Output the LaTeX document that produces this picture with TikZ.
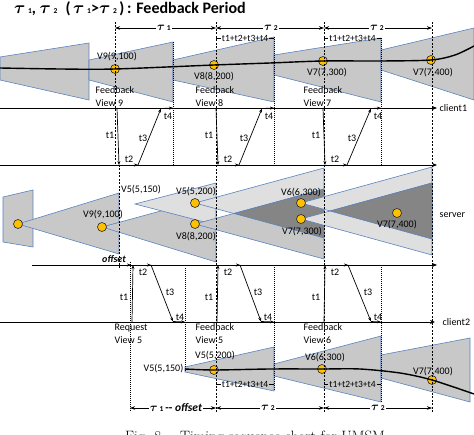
\documentclass[tikz,border=0pt]{standalone}
\usepackage{fontspec}
\usepackage{amsmath}
\newfontfamily\calib{Carlito}
\usetikzlibrary{arrows.meta}
\definecolor{cgray}{HTML}{C8C8C8}
\definecolor{clight}{HTML}{DFDFDF}
\definecolor{cdark}{HTML}{858585}
\definecolor{cblue}{HTML}{5B83C0}
\definecolor{cgold}{HTML}{FFC000}
\newcommand{\tauc}[1]{$\boldsymbol{\tau}$\,{\fontsize{7.5}{7.5}\selectfont\bfseries #1}}
\begin{document}
\begin{tikzpicture}[x=1pt,y=-1pt,
  lbl/.style={font=\calib\fontsize{10}{13}\selectfont, inner sep=0.5pt},
  shp/.style={draw=cblue, line width=0.6pt, fill=cgray},
  lshp/.style={shp, fill=clight},
  dshp/.style={shp, fill=cdark},
  vpt/.style={circle, draw=black!85, fill=cgold, minimum size=9pt, inner sep=0pt, line width=0.6pt},
  vdash/.style={dash pattern=on 2pt off 1.5pt, line width=0.6pt},
  vdot/.style={dash pattern=on 1pt off 1pt, line width=0.6pt},
  axln/.style={line width=0.8pt, -{Stealth[length=5pt,width=4pt]}},
  tarr/.style={line width=0.7pt, -{Stealth[length=4pt,width=3pt]}},
  strm/.style={line width=1.4pt},
  dimline/.style={line width=0.6pt, {Stealth[length=5pt,width=3.5pt]}-{Stealth[length=5pt,width=3.5pt]}},
  dimlbl/.style={font=\calib\fontsize{11.5}{11.5}\selectfont\bfseries, fill=white, inner sep=1pt},
  sumlbl/.style={font=\calib\fontsize{9.5}{10}\selectfont, inner sep=1pt}
]
\useasboundingbox (0,0) rectangle (474,435);
\clip (0,0) rectangle (474,435);

% title
\node[anchor=west, font=\calib\fontsize{16}{16}\selectfont\bfseries, inner sep=0pt] (title) at (14,9)
  {\tauc{1}, \tauc{2} \;(\,\tauc{1}>\tauc{2}\,)\,: Feedback Period};

% ---------- client1 stream shapes ----------
\path[shp] (0,57) -- (89,43) -- (89,100) -- (0,80) -- cycle;
\path[shp] (89,60) -- (173,42) -- (173,102) -- (89,80) -- cycle;
\path[shp] (173,60) -- (274,37) -- (274,102) -- (173,80) -- cycle;
\path[shp] (274,55) -- (381,38) -- (381,102) -- (274,75) -- cycle;
\path[shp] (381,50) -- (474,28) -- (474,100) -- (381,70) -- cycle;

% ---------- server shapes ----------
\path[shp] (3,197) -- (33,190) -- (33,247) -- (3,242) -- cycle;
\path[shp] (18,224) -- (119,193) -- (119,254) -- cycle;
\path[shp] (102,227) -- (216,196) -- (216,262) -- cycle;
\path[lshp] (135,204) -- (216,183) -- (216,225) -- cycle;
\path[lshp] (195,203) -- (324,168) -- (324,238) -- cycle;
\path[shp] (195,224) -- (324,189) -- (324,259) -- cycle;
\path[dshp] (234,213.5) -- (324,189) -- (324,238) -- cycle;
\path[lshp] (301,203) -- (432,167) -- (432,239) -- cycle;
\path[lshp] (301,219) -- (432,183) -- (432,255) -- cycle;
\path[dshp] (330,211) -- (432,183) -- (432,239) -- cycle;

% ---------- client2 stream shapes ----------
\path[shp] (185,367) -- (274,347) -- (274,391) -- (185,372) -- cycle;
\path[shp] (274,364) -- (381,336) -- (381,402) -- (274,376) -- cycle;
\path[shp] (381,355) -- (470,338) -- (470,402) -- (381,378) -- cycle;

% circles on streams
\node[vpt] (a9) at (115,69) {};
\node[vpt] (a8) at (214,65) {};
\node[vpt] (a7) at (323,61) {};
\node[vpt] (a74) at (431,60) {};
\node[vpt] (b5) at (214,370) {};
\node[vpt] (b6) at (322,369) {};
\node[vpt] (b7) at (432,380) {};

% stream curves
\draw[strm] plot[smooth] coordinates {(0,68) (60,69) (115,69) (214,65) (270,63) (323,61) (381,61) (431,60) (455,55) (474,46)};
\draw[strm] plot[smooth] coordinates {(185,369) (214,370) (270,369) (322,369) (360,369) (400,373) (432,380) (474,394)};

% vertical guide lines
\draw[vdash] (115,22) -- (115,165);
\draw[vdash] (119,165) -- (119,268);
\draw[vdash] (216,22) -- (216,412);
\draw[vdash] (324,22) -- (324,412);
\draw[vdash] (432,22) -- (432,412);
\draw[vdot] (173,42) -- (173,165);
\draw[vdot] (274,37) -- (274,165);
\draw[vdot] (381,38) -- (381,165);
\draw[vdot] (130,262) -- (130,412);
\draw[vdot] (185,268) -- (185,372);
\draw[vdot] (274,265) -- (274,391);
\draw[vdot] (381,265) -- (381,402);

% server circles
\node[vpt] (s0) at (18,224) {};
\node[vpt] (s9) at (102,227) {};
\node[vpt] (s5) at (195,203) {};
\node[vpt] (s8) at (195,224) {};
\node[vpt] (s6) at (301,203) {};
\node[vpt] (s7) at (301,219) {};
\node[vpt] (s74) at (397,213) {};

% axes
\coordinate (c1a) at (0,108); \coordinate (c1b) at (437,108);
\coordinate (sta) at (0,165); \coordinate (stb) at (437,165);
\coordinate (sba) at (32,265); \coordinate (sbb) at (437,265);
\coordinate (c2a) at (0,322); \coordinate (c2b) at (435,322);
\draw[axln] (c1a) -- (c1b);
\draw[axln] (sta) -- (stb);
\draw[axln] (sba) -- (sbb);
\draw[axln] (c2a) -- (c2b);
\node[lbl, anchor=west] (lc1) at (439,108) {client1};
\node[lbl, anchor=west] (lsv) at (439,215) {server};
\node[lbl, anchor=west] (lc2) at (442,322) {client2};

% offset
\coordinate (ofa) at (119,265); \coordinate (ofb) at (131,265);
\draw[tarr] (ofa) -- (ofb);
\node[font=\calib\fontsize{10}{10}\selectfont\bfseries\itshape, inner sep=0pt] (lof) at (114,259) {offset};

% t-arrows client1 <-> server
\foreach \a/\c/\d/\e [count=\i] in {117/138/161/173, 216/239/262/274, 323/347/371/381}{
  \coordinate (u1\i) at (\a,108);
  \coordinate (u2\i) at (\a+2,165);
  \coordinate (u3\i) at (\c,165);
  \coordinate (u4\i) at (\d,108.5);
  \coordinate (u5\i) at (\e,108);
  \draw[tarr] (u1\i) -- (u2\i);
  \draw[tarr] (u2\i) -- (u3\i);
  \draw[tarr] (u3\i) -- (u4\i);
  \draw[tarr] (u4\i) -- (u5\i);
  \node[lbl] (ut1\i) at (\a-7,135) {t1};
  \node[lbl] (ut2\i) at (\a+12,159) {t2};
  \node[lbl] (ut3\i) at (\c+5,138) {t3};
  \node[lbl] (ut4\i) at (\d+7,116) {t4};
}
% t-arrows client2 <-> server
\foreach \a/\c/\d/\e [count=\i] in {132/151/173/185, 217/240/261/274, 324/348/371/381}{
  \coordinate (w1\i) at (\a,322);
  \coordinate (w2\i) at (\a+1,265);
  \coordinate (w3\i) at (\c,265);
  \coordinate (w4\i) at (\d,321.5);
  \coordinate (w5\i) at (\e,322);
  \draw[tarr] (w1\i) -- (w2\i);
  \draw[tarr] (w2\i) -- (w3\i);
  \draw[tarr] (w3\i) -- (w4\i);
  \draw[tarr] (w4\i) -- (w5\i);
  \node[lbl] (wt1\i) at (\a-8,297) {t1};
  \node[lbl] (wt2\i) at (\a+11,272) {t2};
  \node[lbl] (wt3\i) at (\d-3,292) {t3};
  \node[lbl] (wt4\i) at (\d+7,317) {t4};
}

% labels client1 stream
\node[lbl] (la9) at (117,57) {V9(9,100)};
\node[lbl] (la8) at (214,77) {V8(8,200)};
\node[lbl] (la7) at (327,73) {V7(7,300)};
\node[lbl] (la74) at (433,73) {V7(7,400)};
\node[lbl, anchor=base west, align=left] (fb9) at (95,107) {Feedback\\View 9};
\node[lbl, anchor=base west, align=left] (fb8) at (195,107) {Feedback\\View 8};
\node[lbl, anchor=base west, align=left] (fb7) at (303,107) {Feedback\\View 7};

% server labels
\node[lbl] (ls5a) at (141,190) {V5(5,150)};
\node[lbl] (ls9) at (103,215) {V9(9,100)};
\node[lbl] (ls5) at (196,192) {V5(5,200)};
\node[lbl] (ls8) at (196,237) {V8(8,200)};
\node[lbl] (ls6) at (301,193) {V6(6,300)};
\node[lbl] (ls7) at (302,232) {V7(7,300)};
\node[lbl] (ls74) at (397,225) {V7(7,400)};

% client2 labels
\node[lbl, anchor=base west, align=left] (rq5) at (114,344) {Request\\View 5};
\node[lbl, anchor=base west, align=left] (fb5) at (195,344) {Feedback\\View 5};
\node[lbl, anchor=base west, align=left] (fb6) at (303,344) {Feedback\\View 6};
\node[lbl, anchor=east] (lb5a) at (184,369) {V5(5,150)};
\node[lbl] (lb5) at (215,356) {V5(5,200)};
\node[lbl] (lb6) at (325,358) {V6(6,300)};
\node[lbl] (lb7) at (433,372) {V7(7,400)};

% sum labels
\node[sumlbl] (sa1) at (245,38) {t1+t2+t3+t4};
\draw[line width=0.6pt] (216,38) -- (sa1.west) (sa1.east) -- (274,38);
\node[sumlbl] (sa2) at (352.5,38) {t1+t2+t3+t4};
\draw[line width=0.6pt] (324,38) -- (sa2.west) (sa2.east) -- (381,38);
\node[sumlbl] (sb1) at (245,384) {t1+t2+t3+t4};
\draw[line width=0.6pt] (216,384) -- (sb1.west) (sb1.east) -- (274,384);
\node[sumlbl] (sb2) at (352.5,384) {t1+t2+t3+t4};
\draw[line width=0.6pt] (324,384) -- (sb2.west) (sb2.east) -- (381,384);

% dimension lines top
\coordinate (d0) at (115,28); \coordinate (d1) at (216,28);
\coordinate (d2) at (324,28); \coordinate (d3) at (432,28);
\draw[dimline] (d0) -- (d1);
\draw[dimline] (d1) -- (d2);
\draw[dimline] (d2) -- (d3);
\node[dimlbl] (dt1) at (164,28) {\tauc{1}};
\node[dimlbl] (dt2) at (271,28) {\tauc{2}};
\node[dimlbl] (dt3) at (377,28) {\tauc{2}};

% dimension lines bottom
\coordinate (e0) at (130,408); \coordinate (e1) at (216,408);
\coordinate (e2) at (324,408); \coordinate (e3) at (432,408);
\draw[dimline] (e0) -- (e1);
\draw[dimline] (e1) -- (e2);
\draw[dimline] (e2) -- (e3);
\node[dimlbl] (et1) at (176,408) {\tauc{1}\,-- \textit{offset}};
\node[dimlbl] (et2) at (268,408) {\tauc{2}};
\node[dimlbl] (et3) at (378,408) {\tauc{2}};

% caption (cut by the frame, as in the original)
\node[font=\fontsize{15}{15}\selectfont, anchor=base] (cap) at (255,442) {Fig. 8.\quad Timing sequence chart for UMSM};
\end{tikzpicture}
\end{document}
